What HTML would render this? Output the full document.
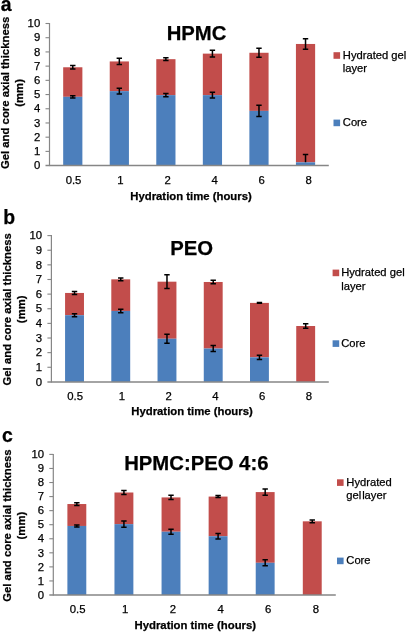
<!DOCTYPE html>
<html><head><meta charset="utf-8"><title>Gel and core axial thickness</title>
<style>
html,body{margin:0;padding:0;background:#fff;}
svg{display:block;font-family:"Liberation Sans",Arial,sans-serif;fill:#000;}
text{stroke:#000;stroke-width:0.25px;}
</style></head><body>
<svg width="406" height="633" viewBox="0 0 406 633">
<rect width="406" height="633" fill="#fff"/>
<g>
<text x="0.7" y="10.5" font-size="19.4" font-weight="bold">a</text>
<text x="196.5" y="39.6" font-size="20.3" font-weight="bold" text-anchor="middle">HPMC</text>
<rect x="63.18" y="67.27" width="19.2" height="29.56" fill="#c24d4b"/>
<rect x="63.18" y="96.82" width="19.2" height="68.78" fill="#4c7fbc"/>
<path d="M70.08 65.56H75.48M70.08 68.97H75.48M72.78 65.56V68.97" stroke="#000" stroke-width="1.5" fill="none"/>
<path d="M70.08 95.69H75.48M70.08 97.96H75.48M72.78 95.69V97.96" stroke="#000" stroke-width="1.5" fill="none"/>
<text x="73.50" y="183.7" font-size="11.33" text-anchor="middle">0.5</text>
<rect x="109.73" y="61.44" width="19.2" height="29.70" fill="#c24d4b"/>
<rect x="109.73" y="91.14" width="19.2" height="74.46" fill="#4c7fbc"/>
<path d="M116.62 58.31H122.03M116.62 64.57H122.03M119.33 58.31V64.57" stroke="#000" stroke-width="1.5" fill="none"/>
<path d="M116.62 88.16H122.03M116.62 94.12H122.03M119.33 88.16V94.12" stroke="#000" stroke-width="1.5" fill="none"/>
<text x="120.52" y="183.7" font-size="11.33" text-anchor="middle">1</text>
<rect x="156.28" y="59.17" width="19.2" height="35.95" fill="#c24d4b"/>
<rect x="156.28" y="95.12" width="19.2" height="70.48" fill="#4c7fbc"/>
<path d="M163.18 57.75H168.57M163.18 60.59H168.57M165.88 57.75V60.59" stroke="#000" stroke-width="1.5" fill="none"/>
<path d="M163.18 93.41H168.57M163.18 96.82H168.57M165.88 93.41V96.82" stroke="#000" stroke-width="1.5" fill="none"/>
<text x="167.54" y="183.7" font-size="11.33" text-anchor="middle">2</text>
<rect x="202.83" y="53.63" width="19.2" height="41.49" fill="#c24d4b"/>
<rect x="202.83" y="95.12" width="19.2" height="70.48" fill="#4c7fbc"/>
<path d="M209.73 50.21H215.12M209.73 57.04H215.12M212.43 50.21V57.04" stroke="#000" stroke-width="1.5" fill="none"/>
<path d="M209.73 92.13H215.12M209.73 98.10H215.12M212.43 92.13V98.10" stroke="#000" stroke-width="1.5" fill="none"/>
<text x="214.56" y="183.7" font-size="11.33" text-anchor="middle">4</text>
<rect x="249.38" y="52.77" width="19.2" height="58.12" fill="#c24d4b"/>
<rect x="249.38" y="110.89" width="19.2" height="54.71" fill="#4c7fbc"/>
<path d="M256.28 48.37H261.68M256.28 57.18H261.68M258.98 48.37V57.18" stroke="#000" stroke-width="1.5" fill="none"/>
<path d="M256.28 105.21H261.68M256.28 116.58H261.68M258.98 105.21V116.58" stroke="#000" stroke-width="1.5" fill="none"/>
<text x="261.58" y="183.7" font-size="11.33" text-anchor="middle">6</text>
<rect x="295.93" y="43.96" width="19.2" height="118.37" fill="#c24d4b"/>
<rect x="295.93" y="162.33" width="19.2" height="3.27" fill="#4c7fbc"/>
<path d="M302.83 38.70H308.23M302.83 49.22H308.23M305.53 38.70V49.22" stroke="#000" stroke-width="1.5" fill="none"/>
<path d="M302.83 154.52H308.23M305.53 154.52V162.33" stroke="#000" stroke-width="1.5" fill="none"/>
<text x="308.60" y="183.7" font-size="11.33" text-anchor="middle">8</text>
<path d="M49.5 23.0V166.1" stroke="#868686" stroke-width="1.2" fill="none"/>
<path d="M45.5 165.6H328.8" stroke="#868686" stroke-width="1.5" fill="none"/>
<text x="40.20" y="169.30" font-size="11.33" text-anchor="end">0</text>
<path d="M45.5 151.39H49.5" stroke="#868686" stroke-width="1.1" fill="none"/>
<text x="40.20" y="155.09" font-size="11.33" text-anchor="end">1</text>
<path d="M45.5 137.18H49.5" stroke="#868686" stroke-width="1.1" fill="none"/>
<text x="40.20" y="140.88" font-size="11.33" text-anchor="end">2</text>
<path d="M45.5 122.97H49.5" stroke="#868686" stroke-width="1.1" fill="none"/>
<text x="40.20" y="126.67" font-size="11.33" text-anchor="end">3</text>
<path d="M45.5 108.76H49.5" stroke="#868686" stroke-width="1.1" fill="none"/>
<text x="40.20" y="112.46" font-size="11.33" text-anchor="end">4</text>
<path d="M45.5 94.55H49.5" stroke="#868686" stroke-width="1.1" fill="none"/>
<text x="40.20" y="98.25" font-size="11.33" text-anchor="end">5</text>
<path d="M45.5 80.34H49.5" stroke="#868686" stroke-width="1.1" fill="none"/>
<text x="40.20" y="84.04" font-size="11.33" text-anchor="end">6</text>
<path d="M45.5 66.13H49.5" stroke="#868686" stroke-width="1.1" fill="none"/>
<text x="40.20" y="69.83" font-size="11.33" text-anchor="end">7</text>
<path d="M45.5 51.92H49.5" stroke="#868686" stroke-width="1.1" fill="none"/>
<text x="40.20" y="55.62" font-size="11.33" text-anchor="end">8</text>
<path d="M45.5 37.71H49.5" stroke="#868686" stroke-width="1.1" fill="none"/>
<text x="40.20" y="41.41" font-size="11.33" text-anchor="end">9</text>
<path d="M45.5 23.50H49.5" stroke="#868686" stroke-width="1.1" fill="none"/>
<text x="40.20" y="27.20" font-size="11.33" text-anchor="end">10</text>
<text transform="translate(9.2 92.9) rotate(-90)" font-size="11.33" font-weight="bold" text-anchor="middle">Gel and core axial thickness</text>
<text transform="translate(23.0 92.9) rotate(-90)" font-size="11.33" font-weight="bold" text-anchor="middle">(mm)</text>
<text x="191" y="199.7" font-size="11.33" font-weight="bold" text-anchor="middle">Hydration time (hours)</text>
<rect x="333.5" y="52.2" width="6.6" height="6.6" fill="#c24d4b"/>
<text x="342.8" y="58.7" font-size="11.2">Hydrated gel</text>
<text x="342.8" y="71.8" font-size="11.2">layer</text>
<rect x="333.5" y="119.6" width="6.6" height="6.6" fill="#4c7fbc"/>
<text x="342.8" y="126.3" font-size="11.2">Core</text>
</g>
<g>
<text x="3.2" y="223.7" font-size="19.4" font-weight="bold">b</text>
<text x="191.7" y="254.6" font-size="20.3" font-weight="bold" text-anchor="middle">PEO</text>
<rect x="65.07" y="292.95" width="18.9" height="22.24" fill="#c24d4b"/>
<rect x="65.07" y="315.19" width="18.9" height="66.71" fill="#4c7fbc"/>
<path d="M71.82 291.49H77.22M71.82 294.41H77.22M74.52 291.49V294.41" stroke="#000" stroke-width="1.5" fill="none"/>
<path d="M71.82 313.72H77.22M71.82 316.65H77.22M74.52 313.72V316.65" stroke="#000" stroke-width="1.5" fill="none"/>
<text x="75.20" y="400.0" font-size="11.33" text-anchor="middle">0.5</text>
<rect x="111.30" y="279.34" width="18.9" height="31.60" fill="#c24d4b"/>
<rect x="111.30" y="310.94" width="18.9" height="70.96" fill="#4c7fbc"/>
<path d="M118.05 277.88H123.45M118.05 280.81H123.45M120.75 277.88V280.81" stroke="#000" stroke-width="1.5" fill="none"/>
<path d="M118.05 309.19H123.45M118.05 312.70H123.45M120.75 309.19V312.70" stroke="#000" stroke-width="1.5" fill="none"/>
<text x="121.95" y="400.0" font-size="11.33" text-anchor="middle">1</text>
<rect x="157.53" y="281.68" width="18.9" height="57.06" fill="#c24d4b"/>
<rect x="157.53" y="338.74" width="18.9" height="43.16" fill="#4c7fbc"/>
<path d="M164.28 274.81H169.68M164.28 288.56H169.68M166.98 274.81V288.56" stroke="#000" stroke-width="1.5" fill="none"/>
<path d="M164.28 334.35H169.68M164.28 343.13H169.68M166.98 334.35V343.13" stroke="#000" stroke-width="1.5" fill="none"/>
<text x="168.70" y="400.0" font-size="11.33" text-anchor="middle">2</text>
<rect x="203.77" y="281.98" width="18.9" height="66.57" fill="#c24d4b"/>
<rect x="203.77" y="348.54" width="18.9" height="33.36" fill="#4c7fbc"/>
<path d="M210.52 280.22H215.92M210.52 283.73H215.92M213.22 280.22V283.73" stroke="#000" stroke-width="1.5" fill="none"/>
<path d="M210.52 345.47H215.92M210.52 351.62H215.92M213.22 345.47V351.62" stroke="#000" stroke-width="1.5" fill="none"/>
<text x="215.45" y="400.0" font-size="11.33" text-anchor="middle">4</text>
<rect x="250.00" y="302.90" width="18.9" height="54.42" fill="#c24d4b"/>
<rect x="250.00" y="357.32" width="18.9" height="24.58" fill="#4c7fbc"/>
<path d="M256.75 302.46H262.15M256.75 303.34H262.15M259.45 302.46V303.34" stroke="#000" stroke-width="1.5" fill="none"/>
<path d="M256.75 355.13H262.15M256.75 359.52H262.15M259.45 355.13V359.52" stroke="#000" stroke-width="1.5" fill="none"/>
<text x="262.20" y="400.0" font-size="11.33" text-anchor="middle">6</text>
<rect x="296.23" y="326.01" width="18.9" height="55.89" fill="#c24d4b"/>
<path d="M302.98 323.67H308.38M302.98 328.35H308.38M305.68 323.67V328.35" stroke="#000" stroke-width="1.5" fill="none"/>
<text x="308.95" y="400.0" font-size="11.33" text-anchor="middle">8</text>
<path d="M51.4 235.1V382.4" stroke="#868686" stroke-width="1.2" fill="none"/>
<path d="M47.4 381.9H328.8" stroke="#868686" stroke-width="1.5" fill="none"/>
<text x="42.10" y="385.60" font-size="11.33" text-anchor="end">0</text>
<path d="M47.4 367.27H51.4" stroke="#868686" stroke-width="1.1" fill="none"/>
<text x="42.10" y="370.97" font-size="11.33" text-anchor="end">1</text>
<path d="M47.4 352.64H51.4" stroke="#868686" stroke-width="1.1" fill="none"/>
<text x="42.10" y="356.34" font-size="11.33" text-anchor="end">2</text>
<path d="M47.4 338.01H51.4" stroke="#868686" stroke-width="1.1" fill="none"/>
<text x="42.10" y="341.71" font-size="11.33" text-anchor="end">3</text>
<path d="M47.4 323.38H51.4" stroke="#868686" stroke-width="1.1" fill="none"/>
<text x="42.10" y="327.08" font-size="11.33" text-anchor="end">4</text>
<path d="M47.4 308.75H51.4" stroke="#868686" stroke-width="1.1" fill="none"/>
<text x="42.10" y="312.45" font-size="11.33" text-anchor="end">5</text>
<path d="M47.4 294.12H51.4" stroke="#868686" stroke-width="1.1" fill="none"/>
<text x="42.10" y="297.82" font-size="11.33" text-anchor="end">6</text>
<path d="M47.4 279.49H51.4" stroke="#868686" stroke-width="1.1" fill="none"/>
<text x="42.10" y="283.19" font-size="11.33" text-anchor="end">7</text>
<path d="M47.4 264.86H51.4" stroke="#868686" stroke-width="1.1" fill="none"/>
<text x="42.10" y="268.56" font-size="11.33" text-anchor="end">8</text>
<path d="M47.4 250.23H51.4" stroke="#868686" stroke-width="1.1" fill="none"/>
<text x="42.10" y="253.93" font-size="11.33" text-anchor="end">9</text>
<path d="M47.4 235.60H51.4" stroke="#868686" stroke-width="1.1" fill="none"/>
<text x="42.10" y="239.30" font-size="11.33" text-anchor="end">10</text>
<text transform="translate(11.1 309.3) rotate(-90)" font-size="11.33" font-weight="bold" text-anchor="middle">Gel and core axial thickness</text>
<text transform="translate(25.0 309.3) rotate(-90)" font-size="11.33" font-weight="bold" text-anchor="middle">(mm)</text>
<text x="192" y="415.0" font-size="11.33" font-weight="bold" text-anchor="middle">Hydration time (hours)</text>
<rect x="332.6" y="269.6" width="6.6" height="6.6" fill="#c24d4b"/>
<text x="341.2" y="276.1" font-size="11.2">Hydrated gel</text>
<text x="341.2" y="289.6" font-size="11.2">layer</text>
<rect x="332.6" y="340.3" width="6.6" height="6.6" fill="#4c7fbc"/>
<text x="341.2" y="346.6" font-size="11.2">Core</text>
</g>
<g>
<text x="2.0" y="441.5" font-size="19.4" font-weight="bold">c</text>
<text x="196.3" y="470" font-size="20.3" font-weight="bold" text-anchor="middle">HPMC:PEO 4:6</text>
<rect x="67.39" y="504.03" width="18.9" height="21.93" fill="#c24d4b"/>
<rect x="67.39" y="525.97" width="18.9" height="69.03" fill="#4c7fbc"/>
<path d="M74.14 502.63H79.54M74.14 505.44H79.54M76.84 502.63V505.44" stroke="#000" stroke-width="1.5" fill="none"/>
<path d="M74.14 524.98H79.54M74.14 526.95H79.54M76.84 524.98V526.95" stroke="#000" stroke-width="1.5" fill="none"/>
<text x="77.60" y="612.8" font-size="11.33" text-anchor="middle">0.5</text>
<rect x="114.47" y="492.50" width="18.9" height="31.64" fill="#c24d4b"/>
<rect x="114.47" y="524.14" width="18.9" height="70.86" fill="#4c7fbc"/>
<path d="M121.22 490.53H126.62M121.22 494.47H126.62M123.92 490.53V494.47" stroke="#000" stroke-width="1.5" fill="none"/>
<path d="M121.22 521.04H126.62M121.22 527.23H126.62M123.92 521.04V527.23" stroke="#000" stroke-width="1.5" fill="none"/>
<text x="125.25" y="612.8" font-size="11.33" text-anchor="middle">1</text>
<rect x="161.56" y="497.42" width="18.9" height="34.31" fill="#c24d4b"/>
<rect x="161.56" y="531.73" width="18.9" height="63.27" fill="#4c7fbc"/>
<path d="M168.31 495.31H173.71M168.31 499.53H173.71M171.01 495.31V499.53" stroke="#000" stroke-width="1.5" fill="none"/>
<path d="M168.31 529.20H173.71M168.31 534.26H173.71M171.01 529.20V534.26" stroke="#000" stroke-width="1.5" fill="none"/>
<text x="172.90" y="612.8" font-size="11.33" text-anchor="middle">2</text>
<rect x="208.64" y="496.58" width="18.9" height="39.65" fill="#c24d4b"/>
<rect x="208.64" y="536.23" width="18.9" height="58.77" fill="#4c7fbc"/>
<path d="M215.39 495.60H220.79M215.39 497.56H220.79M218.09 495.60V497.56" stroke="#000" stroke-width="1.5" fill="none"/>
<path d="M215.39 533.42H220.79M215.39 539.04H220.79M218.09 533.42V539.04" stroke="#000" stroke-width="1.5" fill="none"/>
<text x="220.55" y="612.8" font-size="11.33" text-anchor="middle">4</text>
<rect x="255.73" y="492.08" width="18.9" height="70.72" fill="#c24d4b"/>
<rect x="255.73" y="562.80" width="18.9" height="32.20" fill="#4c7fbc"/>
<path d="M262.48 488.99H267.88M262.48 495.17H267.88M265.18 488.99V495.17" stroke="#000" stroke-width="1.5" fill="none"/>
<path d="M262.48 559.85H267.88M262.48 565.76H267.88M265.18 559.85V565.76" stroke="#000" stroke-width="1.5" fill="none"/>
<text x="268.20" y="612.8" font-size="11.33" text-anchor="middle">6</text>
<rect x="302.81" y="521.33" width="18.9" height="73.67" fill="#c24d4b"/>
<path d="M309.56 519.92H314.96M309.56 522.73H314.96M312.26 519.92V522.73" stroke="#000" stroke-width="1.5" fill="none"/>
<text x="315.85" y="612.8" font-size="11.33" text-anchor="middle">8</text>
<path d="M53.3 453.9V595.5" stroke="#868686" stroke-width="1.2" fill="none"/>
<path d="M49.3 595H335.8" stroke="#868686" stroke-width="1.5" fill="none"/>
<text x="44.00" y="598.70" font-size="11.33" text-anchor="end">0</text>
<path d="M49.3 580.94H53.3" stroke="#868686" stroke-width="1.1" fill="none"/>
<text x="44.00" y="584.64" font-size="11.33" text-anchor="end">1</text>
<path d="M49.3 566.88H53.3" stroke="#868686" stroke-width="1.1" fill="none"/>
<text x="44.00" y="570.58" font-size="11.33" text-anchor="end">2</text>
<path d="M49.3 552.82H53.3" stroke="#868686" stroke-width="1.1" fill="none"/>
<text x="44.00" y="556.52" font-size="11.33" text-anchor="end">3</text>
<path d="M49.3 538.76H53.3" stroke="#868686" stroke-width="1.1" fill="none"/>
<text x="44.00" y="542.46" font-size="11.33" text-anchor="end">4</text>
<path d="M49.3 524.70H53.3" stroke="#868686" stroke-width="1.1" fill="none"/>
<text x="44.00" y="528.40" font-size="11.33" text-anchor="end">5</text>
<path d="M49.3 510.64H53.3" stroke="#868686" stroke-width="1.1" fill="none"/>
<text x="44.00" y="514.34" font-size="11.33" text-anchor="end">6</text>
<path d="M49.3 496.58H53.3" stroke="#868686" stroke-width="1.1" fill="none"/>
<text x="44.00" y="500.28" font-size="11.33" text-anchor="end">7</text>
<path d="M49.3 482.52H53.3" stroke="#868686" stroke-width="1.1" fill="none"/>
<text x="44.00" y="486.22" font-size="11.33" text-anchor="end">8</text>
<path d="M49.3 468.46H53.3" stroke="#868686" stroke-width="1.1" fill="none"/>
<text x="44.00" y="472.16" font-size="11.33" text-anchor="end">9</text>
<path d="M49.3 454.40H53.3" stroke="#868686" stroke-width="1.1" fill="none"/>
<text x="44.00" y="458.10" font-size="11.33" text-anchor="end">10</text>
<text transform="translate(10.6 525.6) rotate(-90)" font-size="11.33" font-weight="bold" text-anchor="middle">Gel and core axial thickness</text>
<text transform="translate(24.5 525.6) rotate(-90)" font-size="11.33" font-weight="bold" text-anchor="middle">(mm)</text>
<text x="195.3" y="629.3" font-size="11.33" font-weight="bold" text-anchor="middle">Hydration time (hours)</text>
<rect x="337" y="479.3" width="6.6" height="6.6" fill="#c24d4b"/>
<text x="346.3" y="486" font-size="11.2">Hydrated</text>
<text x="346.3" y="499.4" font-size="11.2" word-spacing="-2.2">gel layer</text>
<rect x="337" y="557.6" width="6.6" height="6.6" fill="#4c7fbc"/>
<text x="346.3" y="563.9" font-size="11.2">Core</text>
</g>
</svg>
</body></html>
